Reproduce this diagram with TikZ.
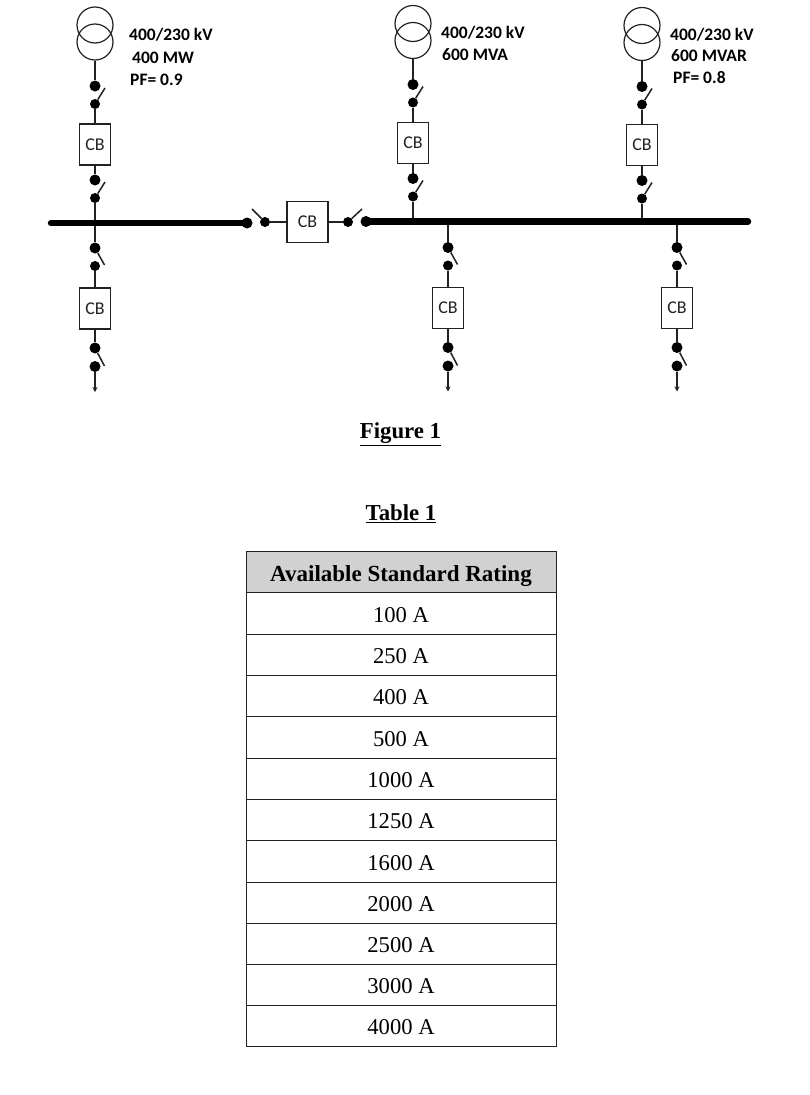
\documentclass[tikz,border=0pt]{standalone}
\usepackage{fontspec}
\setmainfont{Liberation Serif}
\newfontfamily\calib{Carlito}
\usetikzlibrary{arrows.meta}
\definecolor{ink}{HTML}{222222}
\tikzset{
  wire/.style={draw=ink,line width=1.5pt},
  blade/.style={draw=ink,line width=1.5pt},
  bus/.style={draw=black,line width=6.5pt,line cap=round},
  bigdot/.style={circle,fill=black,inner sep=0pt,minimum size=11pt},
  smalldot/.style={circle,fill=black,inner sep=0pt,minimum size=10pt},
  winding/.style={circle,draw=ink,line width=1.2pt,inner sep=0pt,minimum size=36pt},
  cbbox/.style={rectangle,draw=ink,line width=1.4pt,inner sep=0pt,minimum width=31pt,minimum height=41pt,font=\calib\fontsize{18}{20}\selectfont,text=ink},
  cbmid/.style={cbbox,line width=1.8pt,minimum width=41pt,minimum height=41pt},
  rating/.style={rectangle,draw=ink,line width=1pt,inner sep=0pt,minimum width=310pt,minimum height=41.3pt,text height=17pt,text depth=0pt,font=\fontsize{22.6}{24}\selectfont,text=black},
  header/.style={rating,fill=black!18,text height=18pt,font=\bfseries\fontsize{23}{24}\selectfont},
  info/.style={anchor=west,inner sep=0pt,font=\calib\bfseries\fontsize{17.5}{19}\selectfont,text=black},
  caption/.style={inner sep=0pt,font=\bfseries\fontsize{22.8}{24}\selectfont,text=black},
}
% #1 name, #2 x, #3 y shift of the whole bay, #4 y of the bus
\newcommand{\upperbay}[4]{%
  \node[winding] (#1w1) at (#2,{25+#3}) {};
  \node[winding] (#1w2) at (#2,{42+#3}) {};
  \node[bigdot] (#1a) at (#2,{86+#3}) {};
  \node[smalldot] (#1b) at (#2,{104+#3}) {};
  \node[cbbox] (#1cb) at (#2,{144.5+#3}) {CB};
  \node[bigdot] (#1c) at (#2,{180+#3}) {};
  \node[smalldot] (#1d) at (#2,{198+#3}) {};
  \coordinate (#1u) at ({#2+10},{88+#3});
  \coordinate (#1v) at ({#2+10},{182+#3});
  \coordinate (#1j) at (#2,#4);
  \draw[wire] (#1w2.south) -- (#1a);
  \draw[wire] (#1b) -- (#1cb.north);
  \draw[wire] (#1cb.south) -- (#1c);
  \draw[wire] (#1d) -- (#1j);
  \draw[blade] (#1b) -- (#1u);
  \draw[blade] (#1d) -- (#1v);
}
\newcommand{\lowerbay}[4]{%
  \coordinate (#1j) at (#2,#3);
  \node[bigdot] (#1a) at (#2,{248+#4}) {};
  \node[smalldot] (#1b) at (#2,{266+#4}) {};
  \node[cbbox] (#1cb) at (#2,{308.5+#4}) {CB};
  \node[bigdot] (#1c) at (#2,{348+#4}) {};
  \node[bigdot] (#1d) at (#2,{366.5+#4}) {};
  \coordinate (#1u) at ({#2+9.5},{265+#4});
  \coordinate (#1v) at ({#2+9.5},{366+#4});
  \coordinate (#1e) at (#2,{392+#4});
  \draw[wire] (#1j) -- (#1a);
  \draw[wire] (#1b) -- (#1cb.north);
  \draw[wire] (#1cb.south) -- (#1c);
  \draw[wire,-{Stealth[length=5pt,width=5pt]}] (#1d) -- (#1e);
  \draw[blade] (#1a) -- (#1u);
  \draw[blade] (#1c) -- (#1v);
}
\begin{document}
\begin{tikzpicture}[x=1pt,y=-1pt]
\useasboundingbox (0,0) rectangle (809,1095);
% bays first, bus bars above them
\upperbay{A}{95}{0}{223}
\upperbay{B}{413}{-1.5}{221.5}
\upperbay{C}{642}{0.5}{221.5}
\lowerbay{D}{95}{223}{0}
\lowerbay{E}{448}{221.5}{-0.5}
\lowerbay{F}{677}{221.5}{-0.5}
% bus bars
\coordinate (bl1) at (51,223);
\node[bigdot] (bl2) at (247,223) {};
\node[bigdot] (br1) at (366,221.5) {};
\coordinate (br2) at (748,221.5);
\draw[bus] (bl1) -- (bl2.center);
\draw[bus] (br1.center) -- (br2);
% bus coupler
\node[cbmid] (mcb) at (307.5,222) {CB};
\node[smalldot] (ml) at (265,222) {};
\node[smalldot] (mr) at (348,222) {};
\coordinate (mlu) at (252,209);
\coordinate (mru) at (362,209);
\draw[wire,line width=1.8pt] (ml) -- (mcb.west);
\draw[wire,line width=1.8pt] (mcb.east) -- (mr);
\draw[blade] (ml) -- (mlu);
\draw[blade] (mr) -- (mru);
% ratings
\node[info] (t1a) at (129,35) {400/230 kV};
\node[info] (t1b) at (132,58) {400 MW};
\node[info] (t1c) at (130,80) {PF= 0.9};
\node[info] (t2a) at (441,33) {400/230 kV};
\node[info] (t2b) at (442,55) {600 MVA};
\node[info] (t3a) at (670,35) {400/230 kV};
\node[info] (t3b) at (671,56) {600 MVAR};
\node[info] (t3c) at (673,78) {PF= 0.8};
% captions
\node[caption] (fig) at (400.5,434) {\underline{Figure 1}};
\node[caption] (tab) at (401,514) {\underline{Table 1}};
% table
\node[header] (r0) at (401,572) {Available Standard Rating};
\node[rating] (r1) at (401,613.5) {100 A};
\node[rating] (r2) at (401,655) {250 A};
\node[rating] (r3) at (401,696.3) {400 A};
\node[rating] (r4) at (401,737.5) {500 A};
\node[rating] (r5) at (401,778.7) {1000 A};
\node[rating] (r6) at (401,820) {1250 A};
\node[rating] (r7) at (401,861.5) {1600 A};
\node[rating] (r8) at (401,902.7) {2000 A};
\node[rating] (r9) at (401,944) {2500 A};
\node[rating] (r10) at (401,985) {3000 A};
\node[rating] (r11) at (401,1026) {4000 A};
\end{tikzpicture}
\end{document}
